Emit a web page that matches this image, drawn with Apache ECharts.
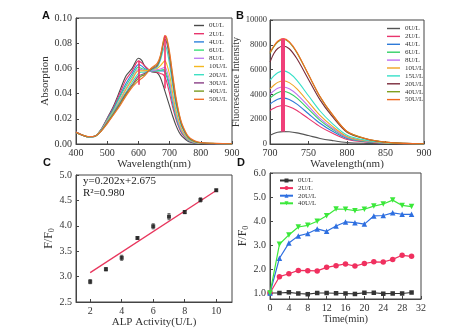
<!DOCTYPE html>
<html><head><meta charset="utf-8">
<script src="https://cdn.jsdelivr.net/npm/echarts@6/dist/echarts.min.js"></script>
<style>html,body{margin:0;padding:0;background:#fff}#c{width:474px;height:332px}</style>
</head><body><div id="c"></div>
<script>
// ---------- Panel A: absorption ----------
const absX = [400,420,440,460,480,500,520,540,560,580,600,610,620,640,660,670,680,685,690,700,710,720,730,740,760,780,800,850,900];
const absNames = ['0U/L','2U/L','4U/L','6U/L','8U/L','10U/L','20U/L','30U/L','40U/L','50U/L'];
const abs0U  = [0.0095,0.0072,0.0056,0.0060,0.0115,0.0205,0.0300,0.0420,0.0540,0.0600,0.0680,0.0665,0.0620,0.0575,0.0565,0.0530,0.0460,0.0420,0.0380,0.0300,0.0220,0.0150,0.0095,0.0060,0.0020,0.0008,0.0004,0.0002,0.0001];
const abs2U  = [0.0095,0.0072,0.0056,0.0061,0.0113,0.0200,0.0290,0.0400,0.0510,0.0580,0.0660,0.0645,0.0620,0.0580,0.0570,0.0560,0.0550,0.0530,0.0500,0.0400,0.0290,0.0200,0.0130,0.0080,0.0028,0.0010,0.0005,0.0002,0.0001];
const abs4U  = [0.0094,0.0071,0.0055,0.0061,0.0111,0.0195,0.0280,0.0380,0.0480,0.0560,0.0630,0.0620,0.0600,0.0578,0.0580,0.0580,0.0580,0.0570,0.0540,0.0450,0.0320,0.0220,0.0140,0.0090,0.0030,0.0011,0.0005,0.0002,0.0001];
const abs6U  = [0.0094,0.0071,0.0055,0.0061,0.0110,0.0190,0.0270,0.0370,0.0460,0.0540,0.0610,0.0600,0.0590,0.0582,0.0580,0.0585,0.0590,0.0585,0.0560,0.0470,0.0340,0.0230,0.0150,0.0095,0.0032,0.0012,0.0006,0.0002,0.0001];
const abs8U  = [0.0093,0.0070,0.0055,0.0060,0.0108,0.0185,0.0260,0.0350,0.0440,0.0520,0.0590,0.0590,0.0580,0.0580,0.0590,0.0595,0.0605,0.0610,0.0590,0.0500,0.0360,0.0250,0.0160,0.0100,0.0035,0.0013,0.0006,0.0002,0.0001];
const abs10U = [0.0093,0.0070,0.0055,0.0060,0.0106,0.0180,0.0255,0.0340,0.0430,0.0510,0.0580,0.0580,0.0580,0.0590,0.0600,0.0620,0.0650,0.0660,0.0640,0.0550,0.0400,0.0270,0.0180,0.0110,0.0038,0.0014,0.0007,0.0003,0.0001];
const abs20U = [0.0092,0.0070,0.0056,0.0060,0.0104,0.0175,0.0250,0.0330,0.0410,0.0490,0.0560,0.0570,0.0570,0.0585,0.0610,0.0660,0.0750,0.0780,0.0760,0.0630,0.0460,0.0310,0.0210,0.0130,0.0045,0.0017,0.0008,0.0003,0.0001];
const abs30U = [0.0092,0.0070,0.0057,0.0061,0.0102,0.0170,0.0240,0.0320,0.0400,0.0470,0.0540,0.0550,0.0560,0.0590,0.0620,0.0680,0.0790,0.0830,0.0810,0.0680,0.0500,0.0340,0.0230,0.0140,0.0050,0.0019,0.0009,0.0003,0.0001];
const abs40U = [0.0092,0.0071,0.0058,0.0061,0.0101,0.0165,0.0235,0.0310,0.0390,0.0460,0.0520,0.0540,0.0550,0.0595,0.0630,0.0690,0.0810,0.0850,0.0840,0.0710,0.0530,0.0360,0.0240,0.0150,0.0055,0.0022,0.0010,0.0004,0.0001];
const abs50U = [0.0093,0.0072,0.0059,0.0062,0.0100,0.0160,0.0230,0.0300,0.0380,0.0450,0.0500,0.0520,0.0540,0.0600,0.0640,0.0700,0.0820,0.0860,0.0850,0.0730,0.0550,0.0380,0.0250,0.0160,0.0060,0.0025,0.0012,0.0005,0.0002];
const absSeries = [abs0U,abs2U,abs4U,abs6U,abs8U,abs10U,abs20U,abs30U,abs40U,abs50U];
const absColors = ['#4a4a4a','#e8356d','#2e82dc','#3ae07a','#c080f0','#f5b820','#3ee0c4','#8a3f86','#7a9a20','#f0702c'];
const absArrowDown = [[600,0.066],[600,0.047]];
const absArrowUp = [[685,0.044],[685,0.086]];

// ---------- Panel B: fluorescence ----------
const fluX = [700,705,710,717,725,735,750,765,780,800,825,850,875,900];
const fluNames = ['0U/L','2U/L','4U/L','6U/L','8U/L','10U/L','15U/L','20U/L','40U/L','50U/L'];
const flu0U  = [700,850,950,1000,990,900,680,450,290,120,50,20,10,0];
const flu2U  = [2700,2880,3020,3100,3010,2700,2050,1400,900,370,160,60,20,10];
const flu4U  = [3220,3440,3610,3700,3590,3220,2440,1670,1070,440,190,70,20,10];
const flu6U  = [3700,3950,4140,4250,4120,3700,2810,1910,1230,510,210,80,30,10];
const flu8U  = [4000,4280,4490,4600,4460,4000,3040,2070,1330,550,230,80,30,10];
const flu10U = [4440,4740,4970,5100,4950,4440,3370,2300,1480,610,260,90,30,10];
const flu15U = [5130,5490,5750,5900,5720,5130,3890,2660,1710,710,300,110,40,10];
const flu20U = [6600,7300,7700,7900,7680,6870,5210,3560,2290,950,400,140,50,20];
const flu40U = [7300,7850,8230,8450,8200,7350,5580,3800,2450,1010,420,150,50,20];
const flu50U = [7400,7900,8290,8500,8250,7400,5600,3830,2470,1020,430,150,50,20];
const fluSeries = [flu0U,flu2U,flu4U,flu6U,flu8U,flu10U,flu15U,flu20U,flu40U,flu50U];
const fluColors = ['#555555','#e8356d','#2e7ad8','#33d066','#c070f0','#f0a424','#36e0c8','#7a2a3a','#80a020','#f06a22'];
const fluArrow = [[717,1000],[717,8500]];

// ---------- Panel C: calibration ----------
const alpX = [2,3,4,5,6,7,8,9,10];
const alpY = [2.90,3.145,3.37,3.76,3.99,4.18,4.27,4.51,4.70];
const alpErr = [0.04,0.03,0.05,0.02,0.05,0.06,0.03,0.04,0.02];
const fitX = [2,10];
const fitY = [3.079,4.695];

// ---------- Panel D: kinetics ----------
const timeX = [0,2,4,6,8,10,12,14,16,18,20,22,24,26,28,30];
const kinNames = ['0U/L','2U/L','20U/L','40U/L'];
const kin0U  = [1.00,1.00,1.03,0.98,0.95,1.00,1.00,0.99,0.98,0.96,1.01,1.01,0.97,0.98,0.98,1.02];
const kin2U  = [1.00,1.68,1.80,1.94,1.93,1.92,2.07,2.14,2.21,2.12,2.23,2.30,2.29,2.40,2.57,2.53];
const kin20U = [1.00,2.45,3.08,3.38,3.48,3.67,3.57,3.79,3.96,3.93,3.87,4.21,4.23,4.34,4.28,4.28];
const kin40U = [1.00,3.03,3.42,3.75,3.82,3.99,4.22,4.50,4.49,4.43,4.49,4.62,4.71,4.87,4.65,4.60];
const kinSeries = [kin0U,kin2U,kin20U,kin40U];
const kinColors = ['#333333','#f0305f','#2e6fe0','#3be83a'];
const kinSymbols = ['rect','circle','triangle','triangle'];
const kinRotate = [0,0,0,180];

const SERIF = 'Liberation Serif';
const axisCol = '#444';
function baseAxis(extra){
  return Object.assign({
    type:'value',
    axisLine:{show:true,lineStyle:{color:axisCol,width:1}},
    axisTick:{show:true,inside:true,length:3,lineStyle:{color:axisCol}},
    splitLine:{show:false},
    axisLabel:{fontFamily:SERIF,fontSize:10,color:'#333',margin:4},
    nameLocation:'middle',
    nameTextStyle:{fontFamily:SERIF,fontSize:11,color:'#333'}
  }, extra);
}

const series = [];
absSeries.forEach((arr,i)=>{
  series.push({type:'line',name:'A|'+absNames[i],xAxisIndex:0,yAxisIndex:0,symbol:'none',smooth:0.3,
    lineStyle:{width:1.1,color:absColors[i]},itemStyle:{color:absColors[i]},
    data:absX.map((x,j)=>[x,arr[j]]),z:2});
});
series.push({type:'line',xAxisIndex:0,yAxisIndex:0,symbol:'none',lineStyle:{opacity:0},data:[absArrowDown[0]],z:5,
  markLine:{silent:true,symbol:['none','arrow'],symbolSize:[0,7],label:{show:false},
    lineStyle:{color:'#f02a60',width:1.5,type:'solid'},
    data:[[{coord:absArrowDown[0]},{coord:absArrowDown[1]}],[{coord:absArrowUp[0]},{coord:absArrowUp[1]}]]}});
fluSeries.forEach((arr,i)=>{
  series.push({type:'line',name:'B|'+fluNames[i],xAxisIndex:1,yAxisIndex:1,symbol:'none',smooth:0.3,
    lineStyle:{width:1.1,color:fluColors[i]},itemStyle:{color:fluColors[i]},
    data:fluX.map((x,j)=>[x,arr[j]]),z:2});
});
series.push({type:'line',xAxisIndex:1,yAxisIndex:1,symbol:'none',lineStyle:{opacity:0},data:[fluArrow[0]],z:5,
  markLine:{silent:true,symbol:['none','arrow'],symbolSize:[0,10],label:{show:false},
    lineStyle:{color:'#f0407a',width:4,type:'solid'},
    data:[[{coord:fluArrow[0]},{coord:fluArrow[1]}]]}});
series.push({type:'line',xAxisIndex:2,yAxisIndex:2,symbol:'none',lineStyle:{width:1.3,color:'#e8365d'},
  data:fitX.map((x,j)=>[x,fitY[j]]),z:2});
series.push({type:'custom',xAxisIndex:2,yAxisIndex:2,z:3,
  data:alpX.map((x,j)=>[x,alpY[j]-alpErr[j],alpY[j]+alpErr[j]]),
  renderItem:(params,api)=>{
    const p1=api.coord([api.value(0),api.value(1)]), p2=api.coord([api.value(0),api.value(2)]);
    const st={stroke:'#666',lineWidth:1};
    return {type:'group',children:[
      {type:'line',shape:{x1:p1[0],y1:p1[1],x2:p2[0],y2:p2[1]},style:st},
      {type:'line',shape:{x1:p1[0]-1.5,y1:p1[1],x2:p1[0]+1.5,y2:p1[1]},style:st},
      {type:'line',shape:{x1:p2[0]-1.5,y1:p2[1],x2:p2[0]+1.5,y2:p2[1]},style:st}]};
  }});
series.push({type:'scatter',xAxisIndex:2,yAxisIndex:2,symbol:'rect',symbolSize:4,itemStyle:{color:'#111'},
  data:alpX.map((x,j)=>[x,alpY[j]]),z:4});
kinSeries.forEach((arr,i)=>{
  series.push({type:'line',name:'D|'+kinNames[i],xAxisIndex:3,yAxisIndex:3,symbol:kinSymbols[i],
    symbolRotate:kinRotate[i],symbolSize:i===0?4.5:5.5,showSymbol:true,
    lineStyle:{width:1.2,color:kinColors[i]},itemStyle:{color:kinColors[i]},
    data:timeX.map((x,j)=>[x,arr[j]]),z:2});
});

const legendText = {fontFamily:SERIF,fontSize:7,color:'#333',lineHeight:7};
const option = {
  animation:false,
  backgroundColor:'#fff',
  grid:[
    {left:76,top:18,width:156,height:126,show:true,borderColor:axisCol,borderWidth:1},
    {left:270,top:20,width:154,height:124,show:true,borderColor:axisCol,borderWidth:1},
    {left:76,top:175,width:156,height:127,show:true,borderColor:axisCol,borderWidth:1},
    {left:270,top:173,width:151,height:126,show:true,borderColor:axisCol,borderWidth:1}
  ],
  xAxis:[
    baseAxis({gridIndex:0,min:400,max:900,interval:100,name:'Wavelength(nm)',nameGap:14}),
    baseAxis({gridIndex:1,min:700,max:900,interval:50,name:'Wavelength(nm)',nameGap:14}),
    baseAxis({gridIndex:2,min:1.1,max:11,name:'ALP Activity(U/L)',nameGap:12,
      axisLabel:{fontFamily:SERIF,fontSize:10,color:'#333',margin:4,customValues:[2,4,6,8,10]},
      axisTick:{show:true,inside:true,length:3,lineStyle:{color:axisCol},customValues:[2,4,6,8,10]}}),
    baseAxis({gridIndex:3,min:0,max:32,interval:4,name:'Time(min)',nameGap:14,
      nameTextStyle:{fontFamily:SERIF,fontSize:10.5,color:'#333'}})
  ],
  yAxis:[
    baseAxis({gridIndex:0,min:0,max:0.1,interval:0.02,name:'Absorption',nameGap:23,
      axisLabel:{fontFamily:SERIF,fontSize:10,color:'#333',margin:4,formatter:v=>v.toFixed(2)}}),
    baseAxis({gridIndex:1,min:0,max:10000,interval:2000,name:'Fluorescence Intensity',nameGap:24,
      nameTextStyle:{fontFamily:SERIF,fontSize:10,color:'#333'},
      axisLabel:{fontFamily:SERIF,fontSize:8.5,color:'#333',margin:3,formatter:v=>String(v)}}),
    baseAxis({gridIndex:2,min:2.5,max:5,interval:0.5,name:'{a|F/F}{b|0}',nameGap:18,
      nameTextStyle:{rich:{a:{fontFamily:SERIF,fontSize:12,color:'#333'},b:{fontFamily:SERIF,fontSize:8,color:'#333',padding:[6,0,0,0]}}},
      axisLabel:{fontFamily:SERIF,fontSize:10,color:'#333',margin:4,formatter:v=>v.toFixed(1)}}),
    baseAxis({gridIndex:3,min:0.75,max:6,name:'{a|F/F}{b|0}',nameGap:15,
      nameTextStyle:{rich:{a:{fontFamily:SERIF,fontSize:12,color:'#333'},b:{fontFamily:SERIF,fontSize:8,color:'#333',padding:[6,0,0,0]}}},
      axisLabel:{fontFamily:SERIF,fontSize:10,color:'#333',margin:4,customValues:[1,2,3,4,5,6],formatter:v=>v.toFixed(1)},
      axisTick:{show:true,inside:true,length:3,lineStyle:{color:axisCol},customValues:[1,2,3,4,5,6]}})
  ],
  legend:[
    {orient:'vertical',left:194,top:22,padding:0,icon:'rect',itemWidth:10,itemHeight:1.4,itemGap:1.2,
      formatter:n=>n.split('|')[1],textStyle:legendText,data:absNames.map(n=>'A|'+n)},
    {orient:'vertical',left:387,top:25,padding:0,icon:'rect',itemWidth:13,itemHeight:1.4,itemGap:0.9,
      formatter:n=>n.split('|')[1],textStyle:legendText,data:fluNames.map(n=>'B|'+n)},
    {orient:'vertical',left:279,top:177,padding:0,itemWidth:13,itemHeight:5,itemGap:0.6,
      formatter:n=>n.split('|')[1],textStyle:legendText,data:kinNames.map(n=>'D|'+n)}
  ],
  graphic:[
    {type:'text',left:42,top:10,style:{text:'A',font:'bold 11px "Liberation Sans"',fill:'#111'}},
    {type:'text',left:236,top:10,style:{text:'B',font:'bold 11px "Liberation Sans"',fill:'#111'}},
    {type:'text',left:43,top:157,style:{text:'C',font:'bold 11px "Liberation Sans"',fill:'#111'}},
    {type:'text',left:237,top:157,style:{text:'D',font:'bold 11px "Liberation Sans"',fill:'#111'}},
    {type:'text',left:83,top:176,style:{text:'y=0.202x+2.675',font:'11px "Liberation Serif"',fill:'#222'}},
    {type:'text',left:83,top:188,style:{text:'R\u00B2=0.980',font:'11px "Liberation Serif"',fill:'#222'}}
  ],
  series:series
};
const chart = echarts.init(document.getElementById('c'),null,{renderer:'canvas'});
chart.setOption(option);
</script></body></html>
